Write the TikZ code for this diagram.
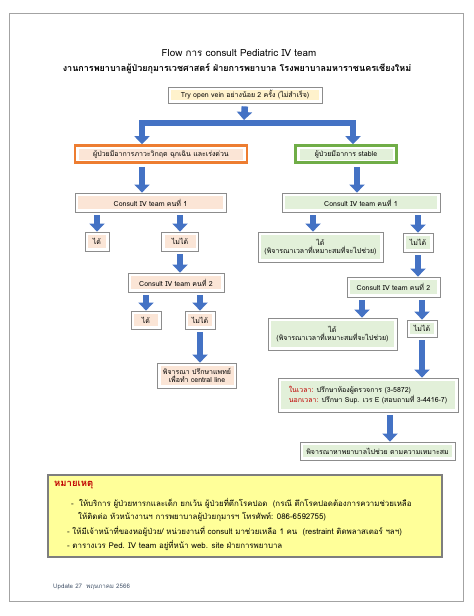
\documentclass[tikz,border=0pt]{standalone}
\usepackage{fontspec}
\setmainfont[Script=Thai]{Loma}
\usetikzlibrary{arrows.meta}
\definecolor{arrowblue}{HTML}{4472C4}
\definecolor{peach}{HTML}{FBE5D6}
\definecolor{lgreen}{HTML}{E2F0D9}
\definecolor{lyellow}{HTML}{FFF2CC}
\definecolor{orangeb}{HTML}{ED7D31}
\definecolor{greenb}{HTML}{70AD47}
\definecolor{noteyellow}{HTML}{FFFF99}
\definecolor{boxgray}{HTML}{8C8C8C}
\definecolor{textred}{HTML}{C00000}
\definecolor{upd}{HTML}{44546A}
\begin{document}
\begin{tikzpicture}[x=1pt,y=-1pt,
  font=\fontsize{7}{8.4}\selectfont,
  blk/.style={draw=arrowblue, line width=6.5pt, -{Triangle[width=15pt,length=8pt]}, shorten <=3pt},
  inbox/.style={draw=boxgray, line width=0.8pt, fill=white, inner sep=1pt, align=center,
    path picture={\fill[#1] ([shift={(3pt,-3pt)}]path picture bounding box.north west)
      rectangle ([shift={(-3pt,3pt)}]path picture bounding box.south east);}},
  thickbox/.style={draw=#1, line width=2.6pt, fill=white, inner sep=1pt, align=center},
  notetext/.style={anchor=west, font=\fontsize{7.9}{9}\selectfont, inner sep=0pt}
]
\useasboundingbox (0,0) rectangle (474,616);
% outer frame
\draw[boxgray!80, line width=1pt] (9,13) rectangle (463,601);

% titles
\node (t1) at (239,53) {\fontsize{9.8}{11}\selectfont Flow การ consult Pediatric IV team};
\node (t2) at (237,69) {\fontsize{9}{11}\selectfont\bfseries งานการพยาบาลผู้ป่วยกุมารเวชศาสตร์ ฝ่ายการพยาบาล โรงพยาบาลมหาราชนครเชียงใหม่};

% top box
\node[inbox=lyellow, minimum width=154pt, minimum height=16pt] (top) at (245,95) {Try open vein อย่างน้อย 2 ครั้ง (ไม่สำเร็จ)};

% branch boxes
\node[thickbox=orangeb, minimum width=172pt, minimum height=17pt,
  path picture={\fill[peach] ([shift={(4pt,-3pt)}]path picture bounding box.north west)
      rectangle ([shift={(-4pt,3pt)}]path picture bounding box.south east);}] (crit) at (161,154) {ผู้ป่วยมีอาการภาวะวิกฤต ฉุกเฉิน และเร่งด่วน};
\node[thickbox=greenb, minimum width=101pt, minimum height=17pt,
  path picture={\fill[lgreen] ([shift={(4pt,-3pt)}]path picture bounding box.north west)
      rectangle ([shift={(-4pt,3pt)}]path picture bounding box.south east);}] (stab) at (346,154) {ผู้ป่วยมีอาการ stable};

% left column
\node[inbox=peach, minimum width=151pt, minimum height=19pt] (c1L) at (150.5,202.5) {Consult IV team คนที่ 1};
\node[inbox=peach, minimum width=24pt, minimum height=19pt] (okL1) at (97,241.5) {ได้};
\node[inbox=peach, minimum width=37pt, minimum height=19pt] (noL1) at (180,241.5) {ไม่ได้};
\node[inbox=peach, minimum width=96pt, minimum height=19pt] (c2L) at (176,282.5) {Consult IV team คนที่ 2};
\node[inbox=peach, minimum width=30pt, minimum height=18pt] (okL2) at (146,320) {ได้};
\node[inbox=peach, minimum width=30pt, minimum height=18pt] (noL2) at (200,320) {ไม่ได้};
\node[inbox=peach, minimum width=79pt, minimum height=25pt] (centralL) at (197,375.5) {พิจารณา ปรึกษาแพทย์\\เพื่อทำ central line};

% right column
\node[inbox=lgreen, minimum width=158pt, minimum height=19pt] (c1R) at (361,202.5) {Consult IV team คนที่ 1};
\node[inbox=lgreen, minimum width=125pt, minimum height=30pt] (okR1) at (320.5,247) {ได้\\(พิจารณาเวลาที่เหมาะสมที่จะไปช่วย)};
\node[inbox=lgreen, minimum width=30pt, minimum height=19pt] (noR1) at (418,242.5) {ไม่ได้};
\node[inbox=lgreen, minimum width=93pt, minimum height=20pt] (c2R) at (393.5,287) {Consult IV team คนที่ 2};
\node[inbox=lgreen, minimum width=129pt, minimum height=32pt] (okR2) at (332.5,334) {ได้\\(พิจารณาเวลาที่เหมาะสมที่จะไปช่วย)};
\node[inbox=lgreen, minimum width=30pt, minimum height=17pt] (noR2) at (422,328.5) {ไม่ได้};
\node[inbox=lgreen, minimum width=180pt, minimum height=34pt, align=left] (timeR) at (368,395)
  {\textcolor{textred}{ในเวลา:} ปรึกษาห้องผู้ตรวจการ (3-5872)\\\textcolor{textred}{นอกเวลา:} ปรึกษา Sup. เวร E (สอบถามที่ 3-4416-7)};
\node[inbox=lgreen, minimum width=155pt, minimum height=18pt] (helpR) at (377.5,451) {พิจารณาหาพยาบาลไปช่วย ตามความเหมาะสม};

% column coordinates
\coordinate (bar) at (244,123);
\coordinate (colA) at (142,0);
\coordinate (colB) at (353,0);
\coordinate (colC) at (357,0);
\coordinate (colD) at (313,0);
\coordinate (colE) at (362,0);
\coordinate (colF) at (390,0);

% arrows
\draw[blk] (top.south) -- ([yshift=3pt]bar);
\draw[blk, shorten <=0pt, line join=miter] (bar) -| (crit.north -| colA);
\draw[blk, shorten <=0pt, line join=miter] (bar) -| (stab.north -| colB);

\draw[blk] (crit.south -| colA) -- (c1L.north -| colA);
\draw[blk] (c1L.south -| okL1) -- (okL1.north);
\draw[blk] (c1L.south -| noL1) -- (noL1.north);
\draw[blk] (noL1.south) -- (c2L.north -| noL1);
\draw[blk] (c2L.south -| okL2) -- (okL2.north);
\draw[blk] (c2L.south -| noL2) -- (noL2.north);
\draw[blk] (noL2.south) -- (centralL.north -| noL2);

\draw[blk] (stab.south -| colC) -- (c1R.north -| colC);
\draw[blk] (c1R.south -| colD) -- (okR1.north -| colD);
\draw[blk] (c1R.south -| noR1) -- (noR1.north);
\draw[blk] (noR1.south) -- (c2R.north -| noR1);
\draw[blk] (c2R.south -| colE) -- (okR2.north -| colE);
\draw[blk] (c2R.south -| noR2) -- (noR2.north);
\draw[blk] (noR2.south) -- (timeR.north -| noR2);
\draw[blk] (timeR.south -| colF) -- (helpR.north -| colF);

% note box
\node[draw=boxgray!90!black, line width=1.2pt, fill=noteyellow, minimum width=394pt, minimum height=82pt] (note) at (245,516) {};
\node[anchor=west, inner sep=0pt, text=textred, font=\fontsize{9.5}{11}\selectfont\bfseries] (nh) at (54,485) {หมายเหตุ};
\node[notetext] (n1) at (71,503) {-\ \ ให้บริการ ผู้ป่วยทารกและเด็ก ยกเว้น ผู้ป่วยที่ตึกโรคปอด\ \ (กรณี ตึกโรคปอดต้องการความช่วยเหลือ};
\node[notetext] (n2) at (78,517) {ให้ติดต่อ หัวหน้างานฯ การพยาบาลผู้ป่วยกุมารฯ โทรศัพท์: 086-6592755)};
\node[notetext] (n3) at (67,531) {- ให้มีเจ้าหน้าที่ของหอผู้ป่วย/ หน่วยงานที่ consult มาช่วยเหลือ 1 คน\ \ (restraint ติดพลาสเตอร์ ฯลฯ)};
\node[notetext] (n4) at (67,545) {- ตารางเวร Ped. IV team อยู่ที่หน้า web. site ฝ่ายการพยาบาล};

\node[anchor=west, inner sep=0pt, text=upd, font=\fontsize{6.2}{7}\selectfont] (upd) at (53,587) {Update 27\ \ พฤษภาคม 2566};
\end{tikzpicture}
\end{document}
